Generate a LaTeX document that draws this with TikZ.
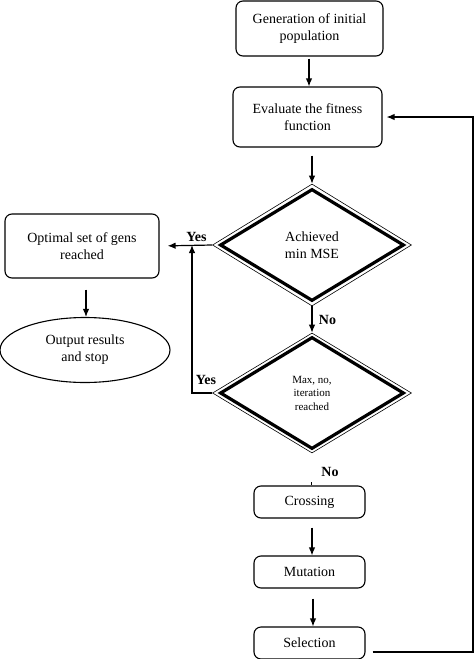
\documentclass[tikz,border=0pt]{standalone}
\usepackage{fontspec}
\setmainfont{Liberation Serif}
\usetikzlibrary{shapes.geometric, arrows.meta}

\begin{document}
\begin{tikzpicture}[x=1pt, y=-1pt, line width=1.1pt,
        procbox/.style={draw, rounded corners=7pt, align=center, inner sep=0pt, font=\fontsize{14}{17}\selectfont},
        decision/.style={diamond, draw, line width=0.6pt, inner sep=0pt, align=center},
        decisionin/.style={diamond, draw, line width=3.2pt, inner sep=0pt},
        flow/.style={-{Latex[length=8pt, width=6.5pt]}, line width=1.2pt},
        answer/.style={font=\bfseries\fontsize{14}{16}\selectfont}]
        \useasboundingbox (0,0) rectangle (474,659);
        % process boxes
        \node[procbox, minimum width=147pt, minimum height=55pt] (init) at (309.5,28.5) {Generation of initial\\population};
        \node[procbox, minimum width=149pt, minimum height=60pt] (fit) at (307.5,117) {Evaluate the fitness\\function};
        \node[procbox, minimum width=154pt, minimum height=64pt] (opt) at (82,246) {Optimal set of gens\\reached};
        \node[ellipse, draw, minimum width=170pt, minimum height=65pt, align=center, inner sep=0pt, font=\fontsize{14}{17}\selectfont] (out) at (85,350) {Output results\\and stop};
        \node[procbox, minimum width=111pt, minimum height=32pt] (cross) at (309.5,502) {Crossing};
        \node[procbox, minimum width=111pt, minimum height=32pt] (mut) at (309.5,572) {Mutation};
        \node[procbox, minimum width=111pt, minimum height=32pt] (sel) at (309.5,643) {Selection};
        % decisions
        \node[decisionin, minimum width=184pt, minimum height=112pt] (msein) at (312,245) {};
        \node[decision, minimum width=199pt, minimum height=122pt, font=\fontsize{14}{17}\selectfont] (mse) at (312,245) {Achieved\\min MSE};
        \node[decisionin, minimum width=184pt, minimum height=112pt] (iterin) at (312,393) {};
        \node[decision, minimum width=199pt, minimum height=120pt, font=\fontsize{11}{13.5}\selectfont] (iter) at (312,393) {Max, no,\\iteration\\reached};
        % connectors
        \coordinate (yesjoin) at (192,245);
        \coordinate (loopR) at (473,652);
        \draw[flow, shorten <=2pt] (init.south -| 309,0) -- (fit.north -| 309,0);
        \draw[flow, shorten <=8pt] (fit.south -| mse.north) -- (mse.north);
        \draw[flow, shorten >=8pt] (mse.west) -- (opt.east) node[answer, pos=0.3, above] {Yes};
        \draw[flow, shorten <=11pt] (opt.south -| 86,0) -- (out.north -| 86,0);
        \draw[flow] (mse.south) -- (iter.north) node[answer, midway, right, xshift=3pt] {No};
        \draw[flow] (iter.west) -| (yesjoin);
        \node[answer] (yes2) at (206,380) {Yes};
        \node[answer] (no2) at (330,472) {No};
        \draw[line width=0.6pt] (cross.north -| 311,0) -- ++(0,-3);
        \draw[flow, shorten <=9pt] (cross.south -| 312,0) -- (mut.north -| 312,0);
        \draw[flow, shorten <=10pt] (mut.south -| 313,0) -- (sel.north -| 313,0);
        \draw[flow, shorten >=4pt] ([xshift=7pt]sel.east |- loopR) -- (loopR) |- (fit.east);
\end{tikzpicture}
\end{document}
